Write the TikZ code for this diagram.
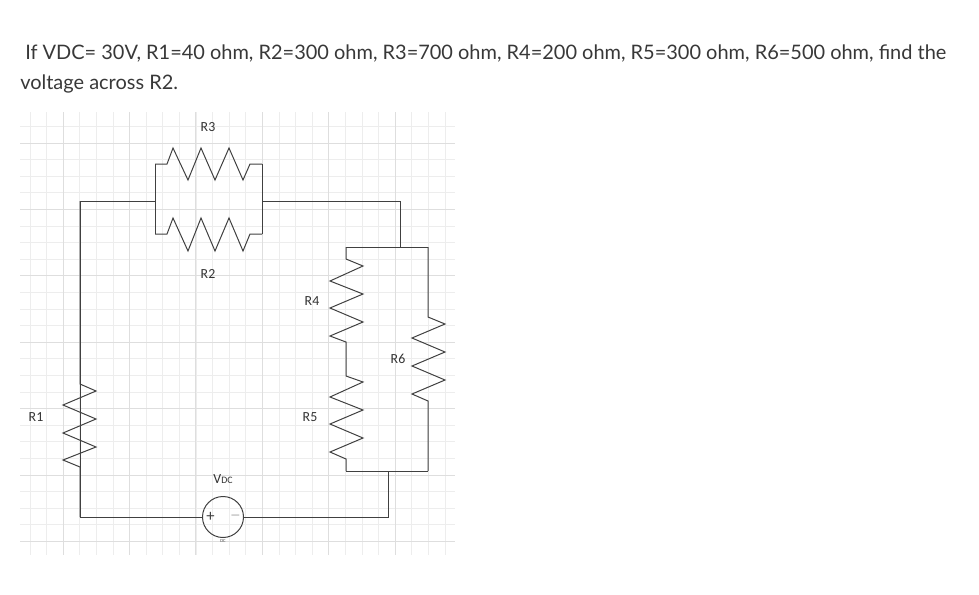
\documentclass[tikz,border=0pt]{standalone}
\usepackage{fontspec}
\setmainfont{Lato}
\newfontfamily\labelfont{Carlito}
\tikzset{
  wire/.style={line width=0.75pt, black!75, line join=miter},
  gridminor/.style={line width=0.5pt, black!7},
  gridmajor/.style={line width=0.5pt, black!13},
  lbl/.style={inner sep=0pt, font=\labelfont\fontsize{10.4}{12}\selectfont, text=black!80},
  signlbl/.style={inner sep=0pt, font=\labelfont\fontsize{12.5}{13}\selectfont},
  question/.style={inner sep=0pt, anchor=base west, font=\fontsize{14.97}{18}\selectfont, text=black!78},
}
\begin{document}
\begin{tikzpicture}[x=0.75pt,y=-0.75pt]
\useasboundingbox (0,0) rectangle (979,594);
%background grid
\foreach \i in {0,...,25} {
  \pgfmathsetmacro{\gx}{30+16.6*\i}
  \draw[gridminor] (\gx,112)--(\gx,555);
}
\foreach \i in {0,...,24} {
  \pgfmathsetmacro{\gy}{126.4+16.6*\i}
  \draw[gridminor] (20,\gy)--(455,\gy);
}
\foreach \i in {0,...,5} {
  \pgfmathsetmacro{\gx}{63+66.4*\i}
  \draw[gridmajor] (\gx,112)--(\gx,555);
}
\foreach \i in {0,...,6} {
  \pgfmathsetmacro{\gy}{143+66.4*\i}
  \draw[gridmajor] (20,\gy)--(455,\gy);
}
%question text
\node[question] (line1) at (25,59) {If VDC= 30V, R1=40 ohm, R2=300 ohm, R3=700 ohm, R4=200 ohm, R5=300 ohm, R6=500 ohm, find the};
\node[question] (line2) at (20,89) {voltage across R2.};
%junctions
\coordinate (topleft) at (80,201);
\coordinate (parleft) at (155,201);
\coordinate (parright) at (262,201);
\coordinate (topright) at (400,201);
\coordinate (branchtop) at (400,247);
\coordinate (tl) at (346,247);
\coordinate (tr) at (428,247);
\coordinate (bl) at (346,471);
\coordinate (br) at (428,471);
\coordinate (branchbot) at (388,471);
\coordinate (botright) at (388,517);
\coordinate (botleft) at (80,517);
%source
\node[draw, wire, circle, minimum size=30.75pt, inner sep=0pt] (vdc) at (223,517) {};
\node[signlbl, text=black!75] (plus) at (210.5,516.5) {+};
\node[inner sep=0pt, font=\labelfont\fontsize{8}{9}\selectfont, text=black!50] (minus) at (235.5,516.5) {\textemdash};
\node[inner sep=0pt, font=\labelfont\fontsize{3.5}{4}\selectfont, text=black!70] (dc) at (223,541) {DC};
\node[lbl] (vdclabel) at (223,479) {V{\fontsize{7.4}{8}\selectfont DC}};
%wires
\draw[wire] (parleft)--(topleft)--(botleft)--(vdc.west);
\draw[wire] (vdc.east)--(botright)--(branchbot);
\draw[wire] (parright)--(topright)--(branchtop);
\draw[wire] (tl)--(tr);
\draw[wire] (bl)--(br);
\draw[wire] (155,164)--(155,234);
\draw[wire] (262,164)--(262,234);
%R3
\draw[wire] (155,164)--(167,164)--(173,148)--(188,180)--(201,148)--(215,180)--(229,148)--(243,180)--(250,164)--(262,164);
%R2
\draw[wire] (155,234)--(167,234)--(173,218)--(188,251)--(201,218)--(215,251)--(229,218)--(243,251)--(250,234)--(262,234);
%R4
\draw[wire] (tl)--(346,259)--(363,266)--(330,281)--(363,294)--(330,308)--(363,322)--(330,336)--(346,342)--(346,376);
%R5
\draw[wire] (346,376)--(363,382)--(330,397)--(363,410)--(330,424)--(363,438)--(330,452)--(346,459)--(bl);
%R6
\draw[wire] (tr)--(428,317)--(445,324)--(412,338)--(445,352)--(412,366)--(445,380)--(412,394)--(428,401)--(br);
%R1
\draw[wire] (topleft)--(80,384)--(96,391)--(63,405)--(96,419)--(63,433)--(96,447)--(63,460)--(80,467)--(botleft);
%labels
\node[lbl] (R3) at (208,127) {R3};
\node[lbl] (R2) at (208,274) {R2};
\node[lbl] (R4) at (312,301) {R4};
\node[lbl] (R5) at (310,417) {R5};
\node[lbl] (R6) at (398,359) {R6};
\node[lbl] (R1) at (36,417) {R1};
\end{tikzpicture}
\end{document}
